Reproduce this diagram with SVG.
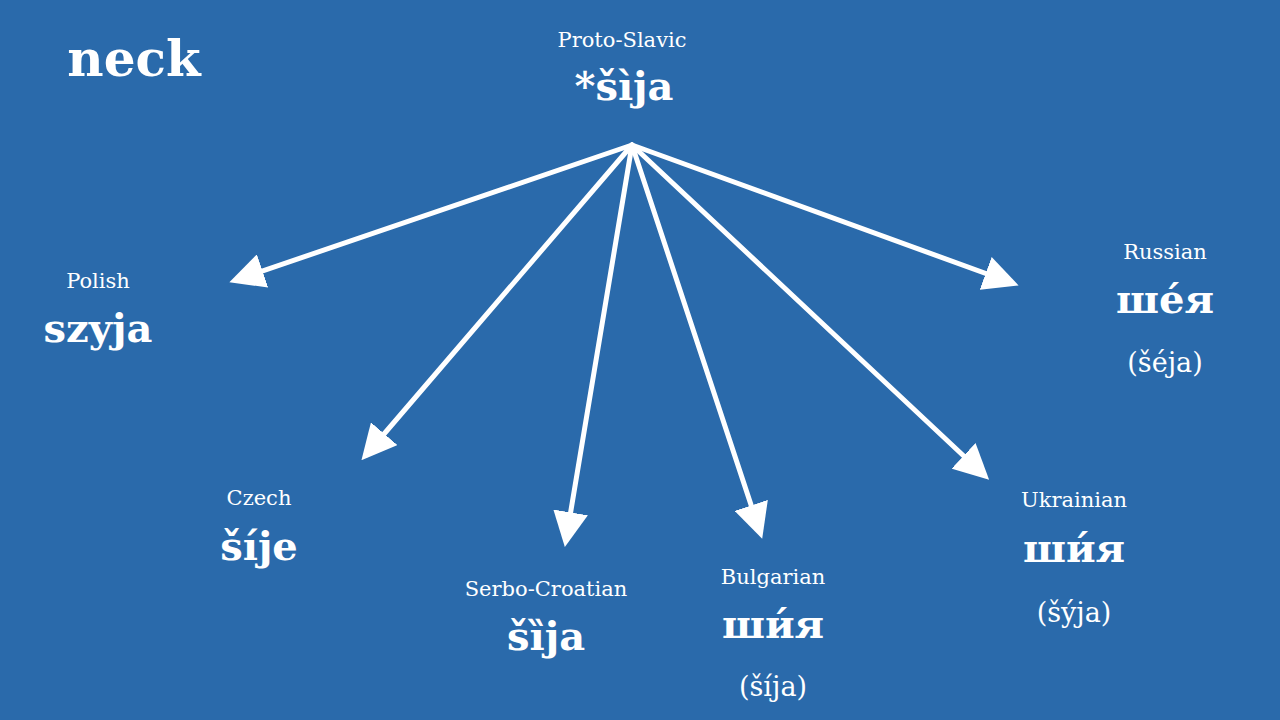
<svg xmlns="http://www.w3.org/2000/svg" width="1280" height="720" viewBox="0 0 1280 720">
<style>
.lbl{font-family:"DejaVu Serif","Liberation Serif",serif;font-size:21px;fill:#fff;text-anchor:middle}
.w{font-family:"DejaVu Serif","Liberation Serif",serif;font-weight:bold;font-size:40px;fill:#fff;text-anchor:middle}
.tr{font-family:"DejaVu Serif","Liberation Serif",serif;font-size:27px;fill:#fff;text-anchor:middle}
.arr{stroke:#fff;stroke-width:5;fill:none;stroke-linecap:round;marker-end:url(#ah)}
</style>
<defs>
<marker id="ah" viewBox="0 0 10 10" refX="8" refY="5" markerWidth="7" markerHeight="7" orient="auto" markerUnits="strokeWidth"><path d="M0,0 L10,5 L0,10 Z" fill="#fff"/></marker>
</defs>
<rect width="1280" height="720" fill="#2a6aab"/>
<g id="title"><text x="134" y="76" class="w" style="font-size:50px">neck</text></g>
<g id="proto"><text x="622" y="47" class="lbl">Proto-Slavic</text><text x="624" y="100" class="w">*šìja</text></g>
<g id="polish"><text x="98" y="288" class="lbl">Polish</text><text x="98" y="342" class="w">szyja</text></g>
<g id="czech"><text x="259" y="505" class="lbl">Czech</text><text x="259" y="560" class="w">šíje</text></g>
<g id="serbo"><text x="546" y="596" class="lbl">Serbo-Croatian</text><text x="546" y="650" class="w">šȉja</text></g>
<g id="bulgarian"><text x="773" y="584" class="lbl">Bulgarian</text><text x="773" y="638" class="w">ши́я</text><text x="773" y="696" class="tr">(šíja)</text></g>
<g id="ukrainian"><text x="1074" y="507" class="lbl">Ukrainian</text><text x="1074" y="562" class="w">ши́я</text><text x="1074" y="622" class="tr">(šýja)</text></g>
<g id="russian"><text x="1165" y="259" class="lbl">Russian</text><text x="1165" y="313" class="w">ше́я</text><text x="1165" y="372" class="tr">(šéja)</text></g>
<g id="connectors">
<path class="arr" d="M632,145 L236,280"/>
<path class="arr" d="M632,145 L366,455"/>
<path class="arr" d="M632,145 L566,540"/>
<path class="arr" d="M632,145 L760,532"/>
<path class="arr" d="M632,145 L984,475"/>
<path class="arr" d="M632,145 L1012,283"/>
</g>
</svg>
